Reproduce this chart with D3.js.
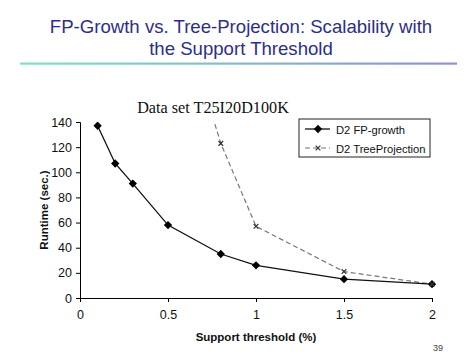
<!DOCTYPE html>
<html><head><meta charset="utf-8">
<script src="https://cdn.jsdelivr.net/npm/d3@7"></script>
<style>body{margin:0;background:#fff}svg{display:block}</style>
</head><body>
<svg id="c" width="474" height="355"></svg>
<script>
const titleLines = ["FP-Growth vs. Tree-Projection: Scalability with", "the Support Threshold"];
const subtitle = "Data set T25I20D100K";
const fpX = [0.1, 0.2, 0.3, 0.5, 0.8, 1, 1.5, 2];
const fpY = [137, 107, 91, 58, 35, 26, 15, 11];
const tpX = [0.5, 0.8, 1, 1.5, 2];
const tpY = [260, 123, 57, 21, 11];
const xTicks = [0, 0.5, 1, 1.5, 2];
const yTicks = [0, 20, 40, 60, 80, 100, 120, 140];
const seriesNames = ["D2 FP-growth", "D2 TreeProjection"];

const svg = d3.select("#c");
const defs = svg.append("defs");
const g1 = defs.append("linearGradient").attr("id","hl");
g1.append("stop").attr("offset","0%").attr("stop-color","#80e0c4");
g1.append("stop").attr("offset","100%").attr("stop-color","#9090d0");
defs.append("clipPath").attr("id","pc").append("rect").attr("x",76).attr("y",121.5).attr("width",362).attr("height",180);

// title
svg.append("g").selectAll("text").data(titleLines).join("text")
  .attr("x",241).attr("y",(d,i)=>33+i*21.5).attr("text-anchor","middle")
  .attr("font-family","Liberation Sans, Arial, sans-serif").attr("font-size",18.6)
  .attr("fill","#2e2e88").text(d=>d);
svg.append("rect").attr("x",20).attr("y",62.5).attr("width",437).attr("height",2.2).attr("fill","url(#hl)");

svg.append("text").attr("x",213).attr("y",113).attr("text-anchor","middle")
  .attr("font-family","Liberation Serif, Times New Roman, serif").attr("font-size",16.2)
  .attr("fill","#111").text(subtitle);

const x = d3.scaleLinear().domain([0,2]).range([80,432]);
const y = d3.scaleLinear().domain([0,140]).range([298,122]);

const font = "Liberation Sans, Arial, sans-serif";
const xa = svg.append("g").attr("transform","translate(0,298)")
  .call(d3.axisBottom(x).tickValues(xTicks).tickFormat(d3.format("")).tickSizeOuter(0).tickSize(4).tickPadding(8));
const ya = svg.append("g").attr("transform","translate(80,0)")
  .call(d3.axisLeft(y).tickValues(yTicks).tickSizeOuter(0).tickSize(4).tickPadding(4));
[xa,ya].forEach(a=>{
  a.selectAll("path,line").attr("stroke","#000");
  a.selectAll("text").attr("font-family",font).attr("font-size",12.5).attr("fill","#111");
});

svg.append("text").attr("transform","translate(48,210) rotate(-90)").attr("text-anchor","middle")
  .attr("font-family",font).attr("font-size",11.5).attr("font-weight","bold").attr("fill","#111").text("Runtime (sec.)");
svg.append("text").attr("x",256).attr("y",341).attr("text-anchor","middle")
  .attr("font-family",font).attr("font-size",11.5).attr("font-weight","bold").attr("fill","#111").text("Support threshold (%)");

const line = d3.line().x(d=>x(d[0])).y(d=>y(d[1]));
const tp = tpX.map((v,i)=>[v,tpY[i]]);
const fp = fpX.map((v,i)=>[v,fpY[i]]);
const pg = svg.append("g").attr("clip-path","url(#pc)");
pg.append("path").datum(tp).attr("d",line).attr("fill","none").attr("stroke","#777").attr("stroke-width",1.2).attr("stroke-dasharray","5,3");
pg.append("path").datum(fp).attr("d",line).attr("fill","none").attr("stroke","#111").attr("stroke-width",1.3);
const diamond = d3.symbol().type(d3.symbolDiamond2).size(44);
pg.selectAll(".fpm").data(fp).join("path").attr("transform",d=>`translate(${x(d[0])},${y(d[1])})`)
  .attr("d",diamond()).attr("fill","#000");
const cross = d3.symbol().type(d3.symbolTimes).size(16);
pg.selectAll(".tpm").data(tp.filter(d=>d[1]<=140)).join("path").attr("transform",d=>`translate(${x(d[0])},${y(d[1])})`)
  .attr("d",cross()).attr("fill","none").attr("stroke","#333").attr("stroke-width",1.2);

// legend
const lg = svg.append("g").attr("transform","translate(299,119)");
lg.append("rect").attr("width",131).attr("height",38).attr("fill","#fff").attr("stroke","#222").attr("stroke-width",1);
lg.append("line").attr("x1",6).attr("x2",31).attr("y1",10).attr("y2",10).attr("stroke","#111").attr("stroke-width",1.3);
lg.append("path").attr("transform","translate(19,10)").attr("d",diamond()).attr("fill","#000");
lg.append("line").attr("x1",6).attr("x2",31).attr("y1",29).attr("y2",29).attr("stroke","#777").attr("stroke-width",1.2).attr("stroke-dasharray","5,3");
lg.append("path").attr("transform","translate(19,29)").attr("d",cross()).attr("stroke","#333").attr("stroke-width",1.2).attr("fill","none");
lg.selectAll("text").data(seriesNames).join("text").attr("x",37).attr("y",(d,i)=>14.5+i*19)
  .attr("font-family",font).attr("font-size",11.2).attr("fill","#111").text(d=>d);

svg.append("text").attr("x",443).attr("y",351).attr("text-anchor","end")
  .attr("font-family",font).attr("font-size",9).attr("fill","#444").text("39");
</script>
</body></html>
